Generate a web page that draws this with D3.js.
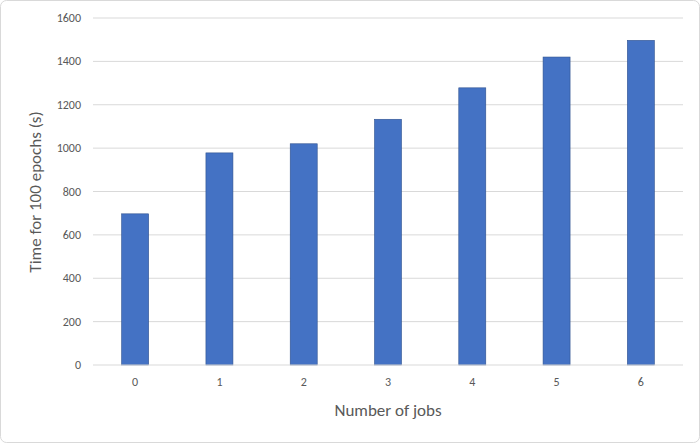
<!DOCTYPE html>
<html><head><meta charset="utf-8">
<script src="https://cdn.jsdelivr.net/npm/d3@7"></script>
<style>body{margin:0;background:#fff}</style>
</head><body>
<svg id="chart" width="700" height="443"></svg>
<script>
// chart data
var jobs = ["0", "1", "2", "3", "4", "5", "6"];
var times = [697, 978, 1020, 1133, 1278, 1420, 1497];
var yTicks = [0, 200, 400, 600, 800, 1000, 1200, 1400, 1600];

var svg = d3.select("#chart");
var font = "Calibri, Carlito, 'Liberation Sans', sans-serif";

// outer frame
svg.append("rect").attr("x", 0.5).attr("y", 0.5).attr("width", 699).attr("height", 442)
  .attr("rx", 6).attr("fill", "#fff").attr("stroke", "#d9d9d9");

var x = d3.scaleBand().domain(jobs).range([93, 683]);
var y = d3.scaleLinear().domain([0, 1600]).range([365, 18]);

// gridlines
svg.append("g").selectAll("line").data(yTicks.slice(1)).join("line")
  .attr("x1", 93).attr("x2", 683)
  .attr("y1", d => y(d)).attr("y2", d => y(d))
  .attr("stroke", "#d9d9d9");

// bars
svg.append("g").selectAll("rect").data(times).join("rect")
  .attr("x", (d, i) => x(jobs[i]) + x.bandwidth() / 2 - 13.5)
  .attr("width", 27)
  .attr("y", d => y(d))
  .attr("height", d => y(0) - y(d))
  .attr("fill", "#4472c4")
  .attr("stroke", "#2f528f").attr("stroke-width", 0.6);

// x axis line
svg.append("line").attr("x1", 93).attr("x2", 683).attr("y1", y(0)).attr("y2", y(0))
  .attr("stroke", "#d9d9d9");

// tick labels
svg.append("g").selectAll("text").data(yTicks).join("text")
  .attr("x", 81).attr("y", d => y(d) + 4)
  .attr("text-anchor", "end").attr("font-family", font).attr("font-size", 12)
  .attr("fill", "#595959").text(d => d);

svg.append("g").selectAll("text").data(jobs).join("text")
  .attr("x", d => x(d) + x.bandwidth() / 2).attr("y", 386)
  .attr("text-anchor", "middle").attr("font-family", font).attr("font-size", 12)
  .attr("fill", "#595959").text(d => d);

// axis titles
svg.append("text").attr("x", 388).attr("y", 416).attr("text-anchor", "middle")
  .attr("font-family", font).attr("font-size", 17).attr("fill", "#595959")
  .text("Number of jobs");

svg.append("text").attr("transform", "translate(41,192) rotate(-90)")
  .attr("text-anchor", "middle").attr("font-family", font).attr("font-size", 17)
  .attr("fill", "#595959").text("Time for 100 epochs (s)");
</script>
</body></html>
